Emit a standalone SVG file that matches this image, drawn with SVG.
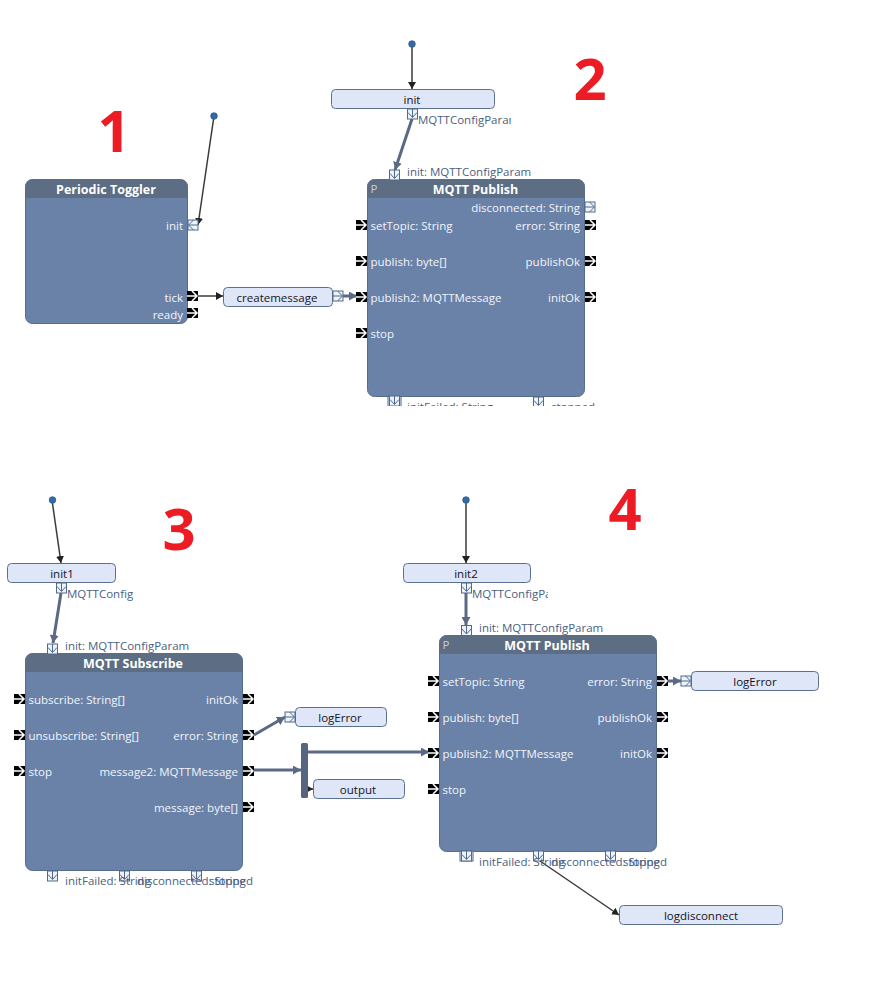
<svg xmlns="http://www.w3.org/2000/svg" width="879" height="989" viewBox="0 0 879 989">
<style>
text{font-family:"Open Sans","Noto Sans","Liberation Sans",sans-serif;font-size:11.5px}
.num{font-family:"Noto Sans","Open Sans",sans-serif;font-size:58px;font-weight:700;fill:#ed1c24;text-anchor:middle}
.body{fill:#6a82a8;stroke:#566c8c;stroke-width:1}
.head{fill:#5d6d84}
.title{fill:#fff;font-weight:700;text-anchor:middle;font-size:12.5px}
.in{fill:#f2f5fb}
.out{fill:#f2f5fb;text-anchor:end}
.lbl{fill:#4c6080}
.box{fill:#dfe6f7;stroke:#5a7090;stroke-width:1}
.boxt{fill:#14141f;text-anchor:middle}
.thin{stroke:#3a3a3a;stroke-width:1.5;fill:none}
.thick{stroke:#5a6a85;stroke-width:3;fill:none}
.dot{fill:#2f6cac;stroke:#28507c;stroke-width:.7}
.pb{fill:#000}
.pc{fill:none;stroke:#fff;stroke-width:1.5}
.ph{fill:#eef2fa;stroke:#4f6a8a;stroke-width:1}
.pl{fill:none;stroke:#4f6a8a;stroke-width:1}
</style>
<defs>
<g id="pblack"><rect class="pb" x="0" y="-5" width="11" height="10"/><path class="pc" d="M0 0H9.500M5 -5L10 0L5 5"/></g>
<g id="pdown"><rect class="ph" x="0" y="0" width="10" height="10"/><path class="pl" d="M5 0V8M.5 3.500L5 8.500L9.500 3.500"/></g>
<g id="pright"><rect class="ph" x="0" y="-5" width="10" height="10"/><path class="pl" d="M0 0H9M4.500 -5L9.500 0L4.500 5"/></g>
<g id="pleft"><rect class="ph" x="0" y="-5" width="10" height="10"/><path class="pl" d="M10 0H1M5.500 -5L.5 0L5.500 5"/></g>
<marker id="ab" markerUnits="userSpaceOnUse" markerWidth="8" markerHeight="8" refX="7" refY="4" orient="auto"><path d="M0 0L7 4L0 8Z" fill="#222"/></marker>
<marker id="ag" markerUnits="userSpaceOnUse" markerWidth="9" markerHeight="9" refX="8" refY="4.500" orient="auto"><path d="M0 0L8 4.500L0 9Z" fill="#5a6a85"/></marker>
<clipPath id="c2"><rect x="340" y="160" width="270" height="246"/></clipPath>
<clipPath id="ci"><rect x="415" y="108" width="96" height="24"/></clipPath>
<clipPath id="ci1"><rect x="60" y="582" width="73" height="24"/></clipPath>
<clipPath id="ci2"><rect x="465" y="582" width="83" height="24"/></clipPath>
</defs>

<g id="connectors">
<path class="thin" marker-end="url(#ab)" d="M214 116L198 225"/>
<path class="thin" marker-end="url(#ab)" d="M198 296H223"/>
<path class="thick" marker-end="url(#ag)" d="M343 296H357"/>
<path class="thin" marker-end="url(#ab)" d="M412 44V89"/>
<path class="thick" marker-end="url(#ag)" d="M412 119L395 170"/>
<path class="thin" marker-end="url(#ab)" d="M52 500L61 563"/>
<path class="thick" marker-end="url(#ag)" d="M61 593L53 643"/>
<path class="thick" marker-end="url(#ag)" d="M254 735L285 717"/>
<path class="thick" marker-end="url(#ag)" d="M254 770H301"/>
<path class="thick" marker-end="url(#ag)" d="M308 752H429"/>
<path class="thin" marker-end="url(#ab)" d="M308 789H313"/>
<path class="thin" marker-end="url(#ab)" d="M466 500V563"/>
<path class="thick" marker-end="url(#ag)" d="M466 593V625"/>
<path class="thick" marker-end="url(#ag)" d="M668 681H681"/>
<path class="thin" marker-end="url(#ab)" d="M540 861L619 915"/>
</g>

<g id="labels-numbers">
<text class="num" x="114" y="152">1</text>
<text class="num" x="590" y="100">2</text>
<text class="num" x="179" y="550">3</text>
<text class="num" x="625" y="530">4</text>
</g>

<g id="start-dots">
<circle class="dot" cx="214" cy="116" r="3.300"/>
<circle class="dot" cx="412" cy="44" r="3.300"/>
<circle class="dot" cx="52.500" cy="500" r="3.300"/>
<circle class="dot" cx="466" cy="500" r="3.300"/>
</g>

<g id="periodic-toggler">
<rect class="body" x="25.500" y="179.500" width="162" height="144" rx="7"/>
<path class="head" d="M25.500 198V186.500a7 7 0 0 1 7-7H180.500a7 7 0 0 1 7 7V198Z"/>
<text class="title" x="106" y="193.500">Periodic Toggler</text>
<text class="out" x="183" y="230">init</text>
<text class="out" x="183" y="302">tick</text>
<text class="out" x="183" y="319">ready</text>
<use href="#pleft" x="188" y="225"/>
<use href="#pblack" x="187" y="296"/>
<use href="#pblack" x="187" y="313"/>
</g>

<g id="createmessage">
<rect class="box" x="223.500" y="287.500" width="109" height="19" rx="4"/>
<text class="boxt" x="277" y="302">createmessage</text>
<use href="#pright" x="333" y="296"/>
</g>

<g id="init">
<rect class="box" x="331.500" y="89.500" width="163" height="19" rx="4"/>
<text class="boxt" x="412" y="104">init</text>
<use href="#pdown" x="407.500" y="109"/>
<text class="lbl" x="418" y="124" clip-path="url(#ci)">MQTTConfigParam</text>
</g>

<g id="mqtt-publish-1">
<rect class="body" x="367.500" y="179.500" width="217" height="217" rx="7"/>
<path class="head" d="M367.500 198V186.500a7 7 0 0 1 7-7H577.500a7 7 0 0 1 7 7V198Z"/>
<text class="in" x="370.500" y="193" style="fill:#c6cfdd">P</text>
<text class="title" x="475.500" y="193.500">MQTT Publish</text>
<text class="lbl" x="407" y="176">init: MQTTConfigParam</text>
<use href="#pdown" x="389.500" y="170"/>
<text class="out" x="580" y="212">disconnected: String</text>
<use href="#pright" x="585" y="207"/>
<text class="in" x="370.500" y="230">setTopic: String</text>
<text class="in" x="370.500" y="266">publish: byte[]</text>
<text class="in" x="370.500" y="302">publish2: MQTTMessage</text>
<text class="in" x="370.500" y="338">stop</text>
<text class="out" x="580" y="230">error: String</text>
<text class="out" x="580" y="266">publishOk</text>
<text class="out" x="580" y="302">initOk</text>
<use href="#pblack" x="356" y="225"/><use href="#pblack" x="356" y="261"/><use href="#pblack" x="356" y="297"/><use href="#pblack" x="356" y="333"/>
<use href="#pblack" x="585" y="225"/><use href="#pblack" x="585" y="261"/><use href="#pblack" x="585" y="297"/>
<g clip-path="url(#c2)">
<rect class="ph" x="388" y="396.500" width="13" height="10"/>
<use href="#pdown" x="389.500" y="396"/>
<use href="#pdown" x="533.500" y="397"/>
<text class="lbl" x="407" y="411">initFailed: String</text>
<text class="lbl" x="551" y="411">stopped</text>
</g>
</g>

<g id="init1">
<rect class="box" x="7.500" y="563.500" width="108" height="19" rx="4"/>
<text class="boxt" x="62" y="578">init1</text>
<use href="#pdown" x="56.500" y="583"/>
<text class="lbl" x="67" y="598" clip-path="url(#ci1)">MQTTConfigParam</text>
</g>

<g id="mqtt-subscribe">
<rect class="body" x="25.500" y="653.500" width="217" height="217" rx="7"/>
<path class="head" d="M25.500 672V660.500a7 7 0 0 1 7-7H235.500a7 7 0 0 1 7 7V672Z"/>
<text class="title" x="133" y="667.500">MQTT Subscribe</text>
<text class="lbl" x="65" y="650">init: MQTTConfigParam</text>
<use href="#pdown" x="47.500" y="644"/>
<text class="in" x="28.500" y="704">subscribe: String[]</text>
<text class="in" x="28.500" y="740">unsubscribe: String[]</text>
<text class="in" x="28.500" y="776">stop</text>
<text class="out" x="238" y="704">initOk</text>
<text class="out" x="238" y="740">error: String</text>
<text class="out" x="238" y="776">message2: MQTTMessage</text>
<text class="out" x="238" y="812">message: byte[]</text>
<use href="#pblack" x="14" y="699"/><use href="#pblack" x="14" y="735"/><use href="#pblack" x="14" y="771"/>
<use href="#pblack" x="243" y="699"/><use href="#pblack" x="243" y="735"/><use href="#pblack" x="243" y="771"/><use href="#pblack" x="243" y="807"/>
<use href="#pdown" x="47.500" y="871"/><use href="#pdown" x="119.500" y="871"/><use href="#pdown" x="191.500" y="871"/>
<text class="lbl" x="65" y="885">initFailed: String</text>
<text class="lbl" x="137" y="885">disconnected: String</text>
<text class="lbl" x="209" y="885">stopped</text>
</g>

<g id="logError-1">
<rect class="box" x="295.500" y="707.500" width="91" height="19" rx="4"/>
<text class="boxt" x="340" y="722">logError</text>
<use href="#pright" x="285" y="717"/>
</g>

<g id="splitter">
<rect x="301" y="743" width="7" height="55" rx="1.500" fill="#566680"/>
</g>

<g id="output">
<rect class="box" x="313.500" y="779.500" width="91" height="19" rx="4"/>
<text class="boxt" x="358" y="794">output</text>
</g>

<g id="init2">
<rect class="box" x="403.500" y="563.500" width="127" height="19" rx="4"/>
<text class="boxt" x="466" y="578">init2</text>
<use href="#pdown" x="461.500" y="583"/>
<text class="lbl" x="472" y="598" clip-path="url(#ci2)">MQTTConfigParam</text>
</g>

<g id="mqtt-publish-2">
<rect class="body" x="439.500" y="635.500" width="217" height="216" rx="7"/>
<path class="head" d="M439.500 654V642.500a7 7 0 0 1 7-7H649.500a7 7 0 0 1 7 7V654Z"/>
<text class="in" x="442.500" y="649" style="fill:#c6cfdd">P</text>
<text class="title" x="547" y="649.500">MQTT Publish</text>
<text class="lbl" x="479" y="632">init: MQTTConfigParam</text>
<use href="#pdown" x="461.500" y="625.500"/>
<text class="in" x="442.500" y="686">setTopic: String</text>
<text class="in" x="442.500" y="722">publish: byte[]</text>
<text class="in" x="442.500" y="758">publish2: MQTTMessage</text>
<text class="in" x="442.500" y="794">stop</text>
<text class="out" x="652" y="686">error: String</text>
<text class="out" x="652" y="722">publishOk</text>
<text class="out" x="652" y="758">initOk</text>
<use href="#pblack" x="428" y="681"/><use href="#pblack" x="428" y="717"/><use href="#pblack" x="428" y="753"/><use href="#pblack" x="428" y="789"/>
<use href="#pblack" x="657" y="681"/><use href="#pblack" x="657" y="717"/><use href="#pblack" x="657" y="753"/>
<rect class="ph" x="460" y="851" width="13" height="10"/>
<use href="#pdown" x="461.500" y="851"/><use href="#pdown" x="533.500" y="851"/><use href="#pdown" x="605.500" y="851"/>
<text class="lbl" x="479" y="866">initFailed: String</text>
<text class="lbl" x="551" y="866">disconnected: String</text>
<text class="lbl" x="623" y="866">stopped</text>
</g>

<g id="logError-2">
<rect class="box" x="691.500" y="671.500" width="127" height="19" rx="4"/>
<text class="boxt" x="755" y="686">logError</text>
<use href="#pright" x="681" y="681"/>
</g>

<g id="logdisconnect">
<rect class="box" x="619.500" y="905.500" width="163" height="19" rx="4"/>
<text class="boxt" x="701" y="920">logdisconnect</text>
</g>
</svg>
